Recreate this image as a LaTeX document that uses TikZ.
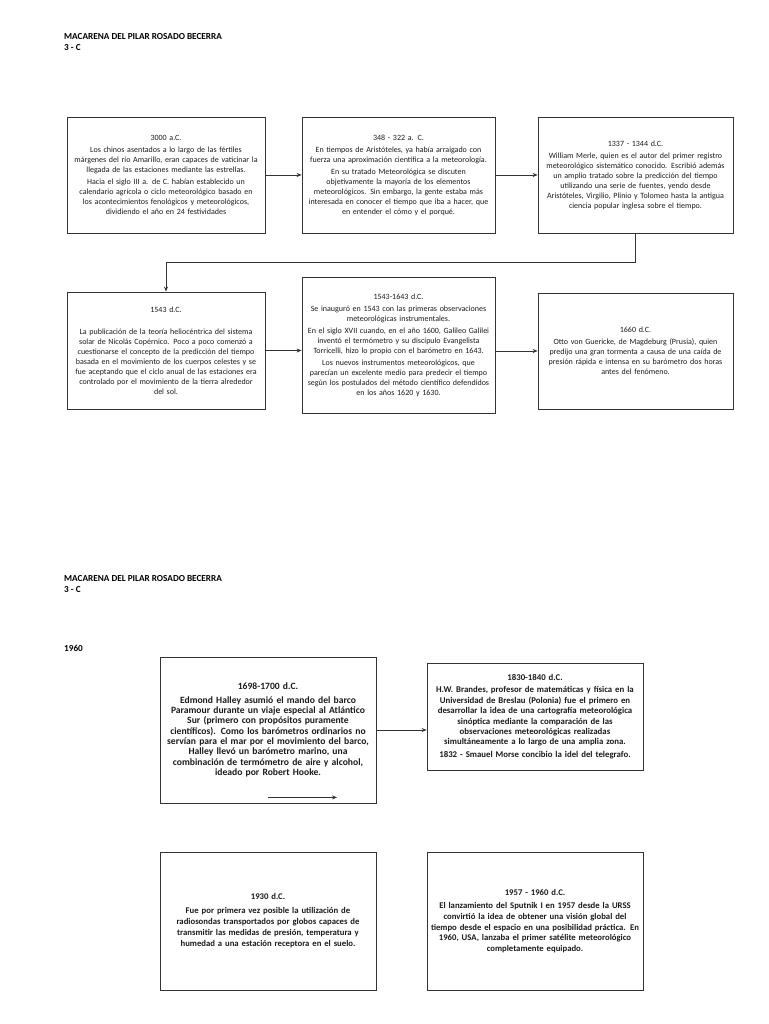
\documentclass[tikz,border=0pt]{standalone}
\usepackage{fontspec}
\setmainfont{Carlito}
\usepackage{tikz}
\usetikzlibrary{positioning, arrows.meta, calc}
\definecolor{rahmen}{HTML}{333333}
\definecolor{schrift}{HTML}{1a1a1a}
\newcommand{\singuion}{\hyphenpenalty=10000\exhyphenpenalty=10000\relax}

\tikzset{
  hito/.style={draw=rahmen, line width=0.8pt, align=center, inner xsep=2pt, inner ysep=3pt,
    text=schrift, font=\fontsize{8}{10}\selectfont\singuion},
  hitob/.style={hito, font=\fontsize{9.6}{10.3}\selectfont\bfseries\singuion},
  cabecera/.style={anchor=north west, inner sep=0pt, align=left, font=\fontsize{9.2}{11}\selectfont\bfseries},
  flecha/.style={-{Stealth[length=5pt,width=4pt]}, line width=0.7pt, draw=rahmen}
}

\begin{document}
\begin{tikzpicture}[x=1pt, y=-1pt]
    % Seite 768 x 1024
    \useasboundingbox (0,0) rectangle (768,1024);

    % --- 1. OBERER TEIL ---
    \node[cabecera] (cab1) at (64,33) {MACARENA DEL PILAR ROSADO BECERRA\\3 - C};

    \node[hito, text width=194pt, minimum height=116pt] (b1) at (166,175)
        {3000 a.C.\\[2pt]
         Los chinos asentados a lo largo de las fértiles\\
         márgenes del río Amarillo, eran capaces de vaticinar la\\
         llegada de las estaciones mediante las estrellas.\\[2pt]
         Hacia el siglo III a. de C. habían establecido un\\
         calendario agrícola o ciclo meteorológico basado en\\
         los acontecimientos fenológicos y meteorológicos,\\
         dividiendo el año en 24 festividades\\[10pt]};

    \node[hito, text width=189pt, minimum height=116pt] (b2) at (398.5,175)
        {348 - 322 a. C.\\[2pt]
         En tiempos de Aristóteles, ya había arraigado con\\
         fuerza una aproximación científica a la meteorología.\\[2pt]
         En su tratado Meteorológica se discuten\\
         objetivamente la mayoría de los elementos\\
         meteorológicos. Sin embargo, la gente estaba más\\
         interesada en conocer el tiempo que iba a hacer, que\\
         en entender el cómo y el porqué.};

    \node[hito, text width=191pt, minimum height=116pt] (b3) at (635.5,175)
        {1337 - 1344 d.C.\\[2pt]
         William Merle, quien es el autor del primer registro\\
         meteorológico sistemático conocido. Escribió además\\
         un amplio tratado sobre la predicción del tiempo\\
         utilizando una serie de fuentes, yendo desde\\
         Aristóteles, Virgilio, Plinio y Tolomeo hasta la antigua\\
         ciencia popular inglesa sobre el tiempo.};

    \node[hito, text width=194pt, minimum height=117pt] (b4) at (166,350.5)
        {1543 d.C.\\[12pt]
         La publicación de la teoría heliocéntrica del sistema\\
         solar de Nicolás Copérnico. Poco a poco comenzó a\\
         cuestionarse el concepto de la predicción del tiempo\\
         basada en el movimiento de los cuerpos celestes y se\\
         fue aceptando que el ciclo anual de las estaciones era\\
         controlado por el movimiento de la tierra alrededor\\
         del sol.};

    \node[hito, text width=189pt, minimum height=136pt] (b5) at (398.5,345)
        {1543-1643 d.C.\\[2pt]
         Se inauguró en 1543 con las primeras observaciones\\
         meteorológicas instrumentales.\\[2pt]
         En el siglo XVII cuando, en el año 1600, Galileo Galilei\\
         inventó el termómetro y su discípulo Evangelista\\
         Torricelli, hizo lo propio con el barómetro en 1643.\\[2pt]
         Los nuevos instrumentos meteorológicos, que\\
         parecían un excelente medio para predecir el tiempo\\
         según los postulados del método científico defendidos\\
         en los años 1620 y 1630.};

    \node[hito, text width=191pt, minimum height=116pt] (b6) at (635.5,351)
        {1660 d.C.\\[2pt]
         Otto von Guericke, de Magdeburg (Prusia), quien\\
         predijo una gran tormenta a causa de una caída de\\
         presión rápida e intensa en su barómetro dos horas\\
         antes del fenómeno.};

    % Verbindungen oben
    \draw[flecha] (b1.east) -- (b2.west);
    \draw[flecha] (b2.east) -- (b3.west);
    \draw[flecha] (b3.south) -- ++(0,29) -| (b4.north);
    \draw[flecha] (b4.east) -- (b4.east -| b5.west);
    \draw[flecha] (b6.west -| b5.east) -- (b6.west);

    % --- 2. UNTERER TEIL ---
    \node[cabecera] (cab2) at (64,575) {MACARENA DEL PILAR ROSADO BECERRA\\3 - C};
    \node[cabecera] (jahr) at (64,645) {1960};

    \node[hitob, text width=212pt, minimum height=146pt] (b7) at (268,730)
        {1698-1700 d.C.\\[3pt]
         Edmond Halley asumió el mando del barco\\
         Paramour durante un viaje especial al Atlántico\\
         Sur (primero con propósitos puramente\\
         científicos). Como los barómetros ordinarios no\\
         servían para el mar por el movimiento del barco,\\
         Halley llevó un barómetro marino, una\\
         combinación de termómetro de aire y alcohol,\\
         ideado por Robert Hooke.};

    \node[hitob, text width=212pt, minimum height=107pt, font=\fontsize{8.8}{10.4}\selectfont\bfseries\singuion] (b8) at (535,716.5)
        {1830-1840 d.C.\\[2pt]
         H.W. Brandes, profesor de matemáticas y física en la\\
         Universidad de Breslau (Polonia) fue el primero en\\
         desarrollar la idea de una cartografía meteorológica\\
         sinóptica mediante la comparación de las\\
         observaciones meteorológicas realizadas\\
         simultáneamente a lo largo de una amplia zona.\\[2pt]
         1832 - Smauel Morse concibio la idel del telegrafo.};

    \node[hitob, text width=212pt, minimum height=138pt, font=\fontsize{8.7}{11}\selectfont\bfseries\singuion] (b9) at (268,921)
        {1930 d.C.\\[3pt]
         Fue por primera vez posible la utilización de\\
         radiosondas transportados por globos capaces de\\
         transmitir las medidas de presión, temperatura y\\
         humedad a una estación receptora en el suelo.};

    \node[hitob, text width=212pt, minimum height=138pt, font=\fontsize{8.7}{10.7}\selectfont\bfseries\singuion] (b10) at (535,921)
        {1957 - 1960 d.C.\\[3pt]
         El lanzamiento del Sputnik I en 1957 desde la URSS\\
         convirtió la idea de obtener una visión global del\\
         tiempo desde el espacio en una posibilidad práctica. En\\
         1960, USA, lanzaba el primer satélite meteorológico\\
         completamente equipado.};

    % Verbindungen unten
    \draw[flecha] (b7.east) -- (b7.east -| b8.west);
    \coordinate (p1) at ($(b7.south)+(0,-6)$);
    \coordinate (p2) at ($(b7.south)+(69,-6)$);
    \draw[flecha] (p1) -- (p2);

\end{tikzpicture}
\end{document}
